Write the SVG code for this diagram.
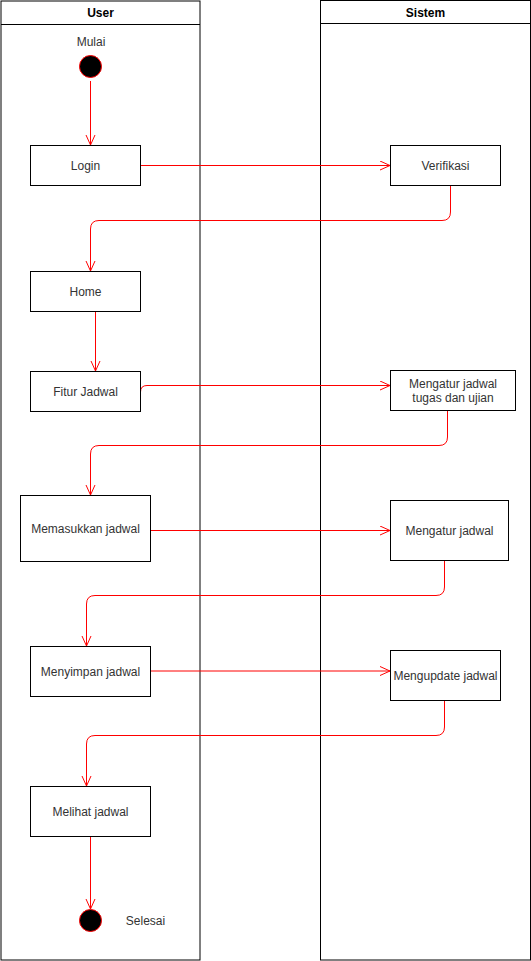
<svg xmlns="http://www.w3.org/2000/svg" width="531" height="961" viewBox="0 0 531 961">
<style>
.lane{fill:none;stroke:#000;stroke-width:1}
.box{fill:#fff;stroke:#000;stroke-width:1}
.t{font-family:"Liberation Sans",Arial,sans-serif;font-size:12px;fill:#333;text-anchor:middle;dominant-baseline:central}
.h{font-weight:bold;fill:#000}
.c{fill:none;stroke:#ff0000;stroke-width:1;marker-end:url(#arr)}
.dot{fill:#000;stroke:#ff0000;stroke-width:1}
</style>
<defs>
<marker id="arr" markerUnits="userSpaceOnUse" markerWidth="12" markerHeight="12" viewBox="0 0 12 12" refX="10" refY="5" orient="auto">
<path d="M0,0.5 L10,5 L0,9.5" fill="none" stroke="#ff0000" stroke-width="1"/>
</marker>
</defs>
<rect width="531" height="961" fill="#fff"/>
<g id="lane-user">
<rect class="lane" x="1" y="1" width="199" height="959"/>
<line class="lane" x1="1" y1="24.5" x2="200" y2="24.5"/>
<text class="t h" x="100.5" y="13">User</text>
</g>
<g id="lane-sistem">
<rect class="lane" x="320.5" y="0.5" width="210" height="959.5"/>
<line class="lane" x1="320.5" y1="23.5" x2="530.5" y2="23.5"/>
<text class="t h" x="425.5" y="12.5">Sistem</text>
</g>
<g id="connectors">
<path class="c" d="M90.5,81 L90.5,145"/>
<path class="c" d="M140,165.5 L390,165.5"/>
<path class="c" d="M450.5,185 L450.5,212 Q450.5,220.5 442,220.5 L99,220.5 Q90.5,220.5 90.5,229 L90.5,271"/>
<path class="c" d="M95.5,311 L95.5,371"/>
<path class="c" d="M140.5,395 L140.5,392 Q140.5,385.5 147,385.5 L390,385.5"/>
<path class="c" d="M447.5,410 L447.5,437 Q447.5,445.5 439,445.5 L99,445.5 Q90.5,445.5 90.5,454 L90.5,495"/>
<path class="c" d="M150,530.5 L390,530.5"/>
<path class="c" d="M444.5,560 L444.5,587 Q444.5,595.5 436,595.5 L95,595.5 Q86.5,595.5 86.5,604 L86.5,646"/>
<path class="c" d="M150,671 L390,671"/>
<path class="c" d="M444.5,700 L444.5,727 Q444.5,735.5 436,735.5 L95,735.5 Q86.5,735.5 86.5,744 L86.5,786"/>
<path class="c" d="M90.5,837 L90.5,909"/>
</g>
<g id="start">
<text class="t" x="91" y="42">Mulai</text>
<circle class="dot" cx="90.5" cy="66.5" r="11"/>
</g>
<g id="login">
<rect class="box" x="30.5" y="145.5" width="110" height="40"/>
<text class="t" x="85.5" y="165.5">Login</text>
</g>
<g id="verifikasi">
<rect class="box" x="390.5" y="145.5" width="110" height="40"/>
<text class="t" x="445.5" y="165.5">Verifikasi</text>
</g>
<g id="home">
<rect class="box" x="30.5" y="271.5" width="110" height="40"/>
<text class="t" x="85.5" y="291.5">Home</text>
</g>
<g id="fitur-jadwal">
<rect class="box" x="30.5" y="371.5" width="110" height="40"/>
<text class="t" x="85.5" y="391.5">Fitur Jadwal</text>
</g>
<g id="mengatur-tugas">
<rect class="box" x="390.5" y="370.5" width="125" height="40"/>
<text class="t" x="453" y="383.5">Mengatur jadwal</text>
<text class="t" x="453" y="397.5">tugas dan ujian</text>
</g>
<g id="memasukkan">
<rect class="box" x="20.5" y="495.5" width="130" height="66"/>
<text class="t" x="85.5" y="528.5">Memasukkan jadwal</text>
</g>
<g id="mengatur">
<rect class="box" x="390.5" y="500.5" width="118" height="60"/>
<text class="t" x="449.5" y="530.5">Mengatur jadwal</text>
</g>
<g id="menyimpan">
<rect class="box" x="30.5" y="646.5" width="120" height="50"/>
<text class="t" x="90.5" y="671.5">Menyimpan jadwal</text>
</g>
<g id="mengupdate">
<rect class="box" x="390.5" y="650.5" width="110" height="50"/>
<text class="t" x="445.5" y="675.5">Mengupdate jadwal</text>
</g>
<g id="melihat">
<rect class="box" x="30.5" y="786.5" width="120" height="50"/>
<text class="t" x="90.5" y="811.5">Melihat jadwal</text>
</g>
<g id="end">
<circle class="dot" cx="90.5" cy="920.5" r="11"/>
<text class="t" x="145.5" y="920.5">Selesai</text>
</g>
</svg>
